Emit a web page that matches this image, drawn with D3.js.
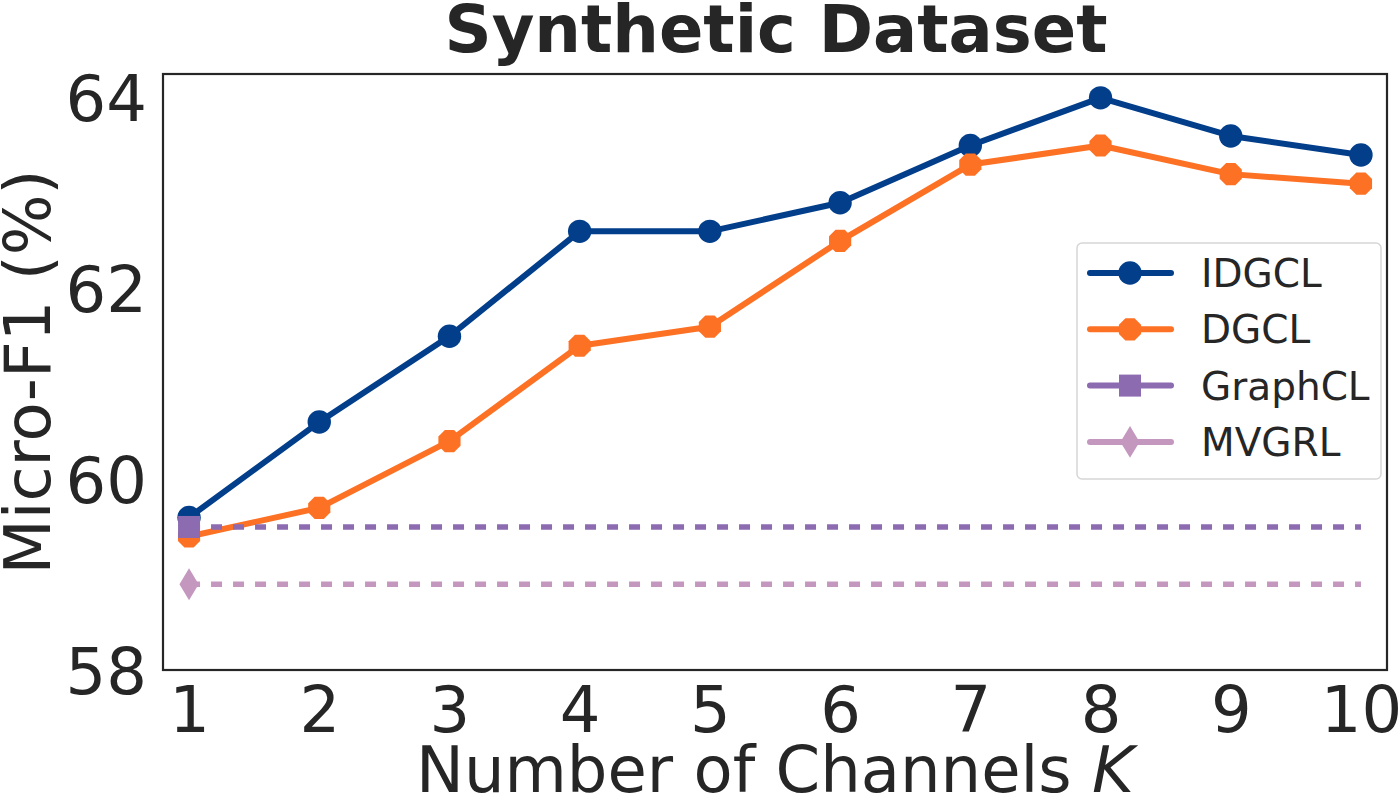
<!DOCTYPE html>
<html>
<head>
<meta charset="utf-8">
<script src="https://cdn.jsdelivr.net/npm/d3@7"></script>
<style>
  html, body { margin: 0; padding: 0; background: #fff; }
  svg { display: block; }
  text { font-family: "DejaVu Sans", sans-serif; fill: #262626; }
</style>
</head>
<body>
<svg id="chart" width="1400" height="800"></svg>
<script>
// ---- data ----
const channels = [1, 2, 3, 4, 5, 6, 7, 8, 9, 10];
const idgcl = [59.6, 60.6, 61.5, 62.6, 62.6, 62.9, 63.5, 64.0, 63.6, 63.4];
const dgcl  = [59.4, 59.7, 60.4, 61.4, 61.6, 62.5, 63.3, 63.5, 63.2, 63.1];
const graphcl = [59.5, 59.5, 59.5, 59.5, 59.5, 59.5, 59.5, 59.5, 59.5, 59.5];
const mvgrl   = [58.9, 58.9, 58.9, 58.9, 58.9, 58.9, 58.9, 58.9, 58.9, 58.9];
const yTicks = [58, 60, 62, 64];
const seriesNames = ["IDGCL", "DGCL", "GraphCL", "MVGRL"];

const W = 1400, H = 800;
const m = { left: 163, right: 1387, top: 74, bottom: 670 };

const svg = d3.select("#chart");
const x = d3.scaleLinear().domain([0.8, 10.2]).range([m.left, m.right]);
const y = d3.scaleLinear().domain([58, 64.25]).range([m.bottom, m.top]);

const series = [
  { name: "IDGCL", values: idgcl, color: "#023e8a", marker: "circle", dashed: false, every: false },
  { name: "DGCL", values: dgcl, color: "#fd7125", marker: "octagon", dashed: false, every: false },
  { name: "GraphCL", values: graphcl, color: "#8c6bb1", marker: "square", dashed: true, every: true },
  { name: "MVGRL", values: mvgrl, color: "#c497bf", marker: "thin_diamond", dashed: true, every: true }
];

function markerPath(type, r) {
  if (type === "circle") return d3.symbol().type(d3.symbolCircle).size(Math.PI * r * r)();
  if (type === "square") return `M${-r},${-r}H${r}V${r}H${-r}Z`;
  if (type === "thin_diamond") { const h = r * 1.45, w = h * 0.6; return `M0,${-h}L${w},0L0,${h}L${-w},0Z`; }
  if (type === "octagon") {
    const pts = d3.range(8).map(i => { const a = Math.PI / 8 + i * Math.PI / 4; return [r * Math.cos(a), r * Math.sin(a)]; });
    return "M" + pts.map(p => p.join(",")).join("L") + "Z";
  }
}
const markerR = { circle: 11.7, octagon: 12, square: 11, thin_diamond: 11 };

const line = d3.line().x((d, i) => x(channels[i])).y(d => y(d));

const plot = svg.append("g");
series.forEach(s => {
  plot.append("path").datum(s.values)
    .attr("d", line)
    .attr("fill", "none")
    .attr("stroke", s.color)
    .attr("stroke-width", s.dashed ? 5.5 : 6)
    .attr("stroke-dasharray", s.dashed ? "11,11" : null)
    .attr("stroke-linejoin", "round");
  const pts = s.every ? [0] : d3.range(s.values.length);
  plot.selectAll(null).data(pts).enter().append("path")
    .attr("d", markerPath(s.marker, markerR[s.marker]))
    .attr("transform", i => `translate(${x(channels[i])},${y(s.values[i])})`)
    .attr("fill", s.color);
});

// frame
svg.append("rect").attr("x", m.left).attr("y", m.top)
  .attr("width", m.right - m.left).attr("height", m.bottom - m.top)
  .attr("fill", "none").attr("stroke", "#262626").attr("stroke-width", 2.2);

// axes
const xAxis = d3.axisBottom(x).tickValues(channels).tickSize(0).tickPadding(0).tickFormat(d3.format("d"));
const gx = svg.append("g").attr("transform", `translate(0,${m.bottom})`).call(xAxis);
gx.select(".domain").remove();
gx.selectAll("text").attr("font-size", 64).attr("dy", null).attr("y", 62).style("fill", "#262626");

const yAxis = d3.axisLeft(y).tickValues(yTicks).tickSize(0).tickPadding(0).tickFormat(d3.format("d"));
const gy = svg.append("g").attr("transform", `translate(${m.left - 16},0)`).call(yAxis);
gy.select(".domain").remove();
gy.selectAll("text").attr("font-size", 64).attr("dy", "0.36em").attr("x", 0).style("fill", "#262626");
svg.selectAll(".tick text").attr("font-family", "DejaVu Sans");

// title & labels
svg.append("text").attr("x", 776).attr("y", 52)
  .attr("text-anchor", "middle").attr("font-size", 65.5).attr("font-weight", "bold")
  .text("Synthetic Dataset");

const xl = svg.append("text").attr("x", (m.left + m.right) / 2).attr("y", 792)
  .attr("text-anchor", "middle").attr("font-size", 64);
xl.append("tspan").text("Number of Channels ");
xl.append("tspan").attr("font-style", "italic").text("K");

svg.append("text").attr("transform", `translate(50,${(m.top + m.bottom) / 2}) rotate(-90)`)
  .attr("text-anchor", "middle").attr("font-size", 64)
  .text("Micro-F1 (%)");

// legend
const lg = svg.append("g");
lg.append("rect").attr("x", 1077).attr("y", 243).attr("width", 304).attr("height", 236)
  .attr("rx", 5).attr("fill", "#fff").attr("fill-opacity", 0.8)
  .attr("stroke", "#d6d6d6").attr("stroke-width", 1.5);
series.forEach((s, i) => {
  const cy = 273 + i * 56.3;
  lg.append("line").attr("x1", 1090).attr("x2", 1171).attr("y1", cy).attr("y2", cy)
    .attr("stroke", s.color).attr("stroke-width", 6).attr("stroke-linecap", "round");
  lg.append("path").attr("d", markerPath(s.marker, markerR[s.marker]))
    .attr("transform", `translate(1130,${cy})`).attr("fill", s.color);
  lg.append("text").attr("x", 1201).attr("y", cy).attr("dy", "0.36em")
    .attr("font-size", 39).text(seriesNames[i]);
});
</script>
</body>
</html>
